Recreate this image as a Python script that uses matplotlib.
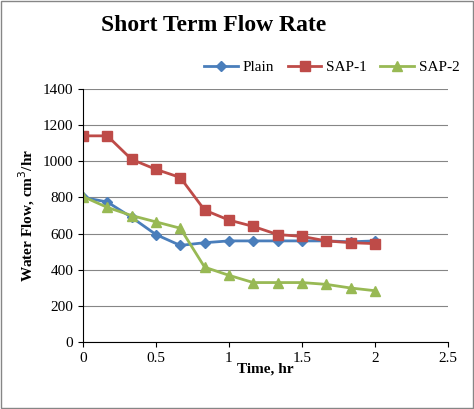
import matplotlib
matplotlib.use("Agg")
import matplotlib.pyplot as plt

time = [0, 1/6, 2/6, 3/6, 4/6, 5/6, 1, 7/6, 8/6, 9/6, 10/6, 11/6, 2]
plain = [800, 775, 690, 595, 535, 550, 560, 560, 560, 560, 560, 555, 560]
sap1 = [1140, 1140, 1010, 955, 910, 730, 675, 640, 595, 585, 560, 550, 545]
sap2 = [805, 745, 700, 665, 630, 415, 370, 330, 330, 330, 320, 300, 285]

plt.rcParams['font.family'] = ['Liberation Serif', 'DejaVu Serif']
fig = plt.figure(figsize=(4.74, 4.09), dpi=100)
ax = fig.add_axes([0.175, 0.163, 0.77, 0.62])
ax.plot(time, plain, color='#4a7ebb', marker='D', ms=5, lw=2, label='Plain')
ax.plot(time, sap1, color='#be4b48', marker='s', ms=7, lw=2, label='SAP-1')
ax.plot(time, sap2, color='#98b954', marker='^', ms=7, lw=2, label='SAP-2')
ax.set_xlim(0, 2.5)
ax.set_ylim(0, 1400)
ax.set_xticks([0, 0.5, 1, 1.5, 2, 2.5])
ax.set_xticklabels(['0', '0.5', '1', '1.5', '2', '2.5'])
ax.set_yticks(range(0, 1401, 200))
ax.grid(axis='y', color='#868686', lw=0.8)
ax.set_axisbelow(True)
for s in ['top', 'right']:
    ax.spines[s].set_visible(False)
ax.tick_params(labelsize=11)
ax.set_xlabel('Time, hr', fontsize=11, fontweight='bold', labelpad=-2)
ax.set_ylabel('Water Flow, cm$^3$/hr', fontsize=11, fontweight='bold')
fig.text(0.45, 0.925, 'Short Term Flow Rate', ha='center', fontsize=17, fontweight='bold')
fig.legend(loc='center', bbox_to_anchor=(0.7, 0.835), ncol=3, frameon=False,
           fontsize=11, handlelength=2.2, columnspacing=0.9, handletextpad=0.3)
fig.patches.append(plt.Rectangle((0.002, 0.002), 0.996, 0.996, transform=fig.transFigure,
                                 fill=False, ec='#868686', lw=1))
fig.savefig('out.png', dpi=100)
